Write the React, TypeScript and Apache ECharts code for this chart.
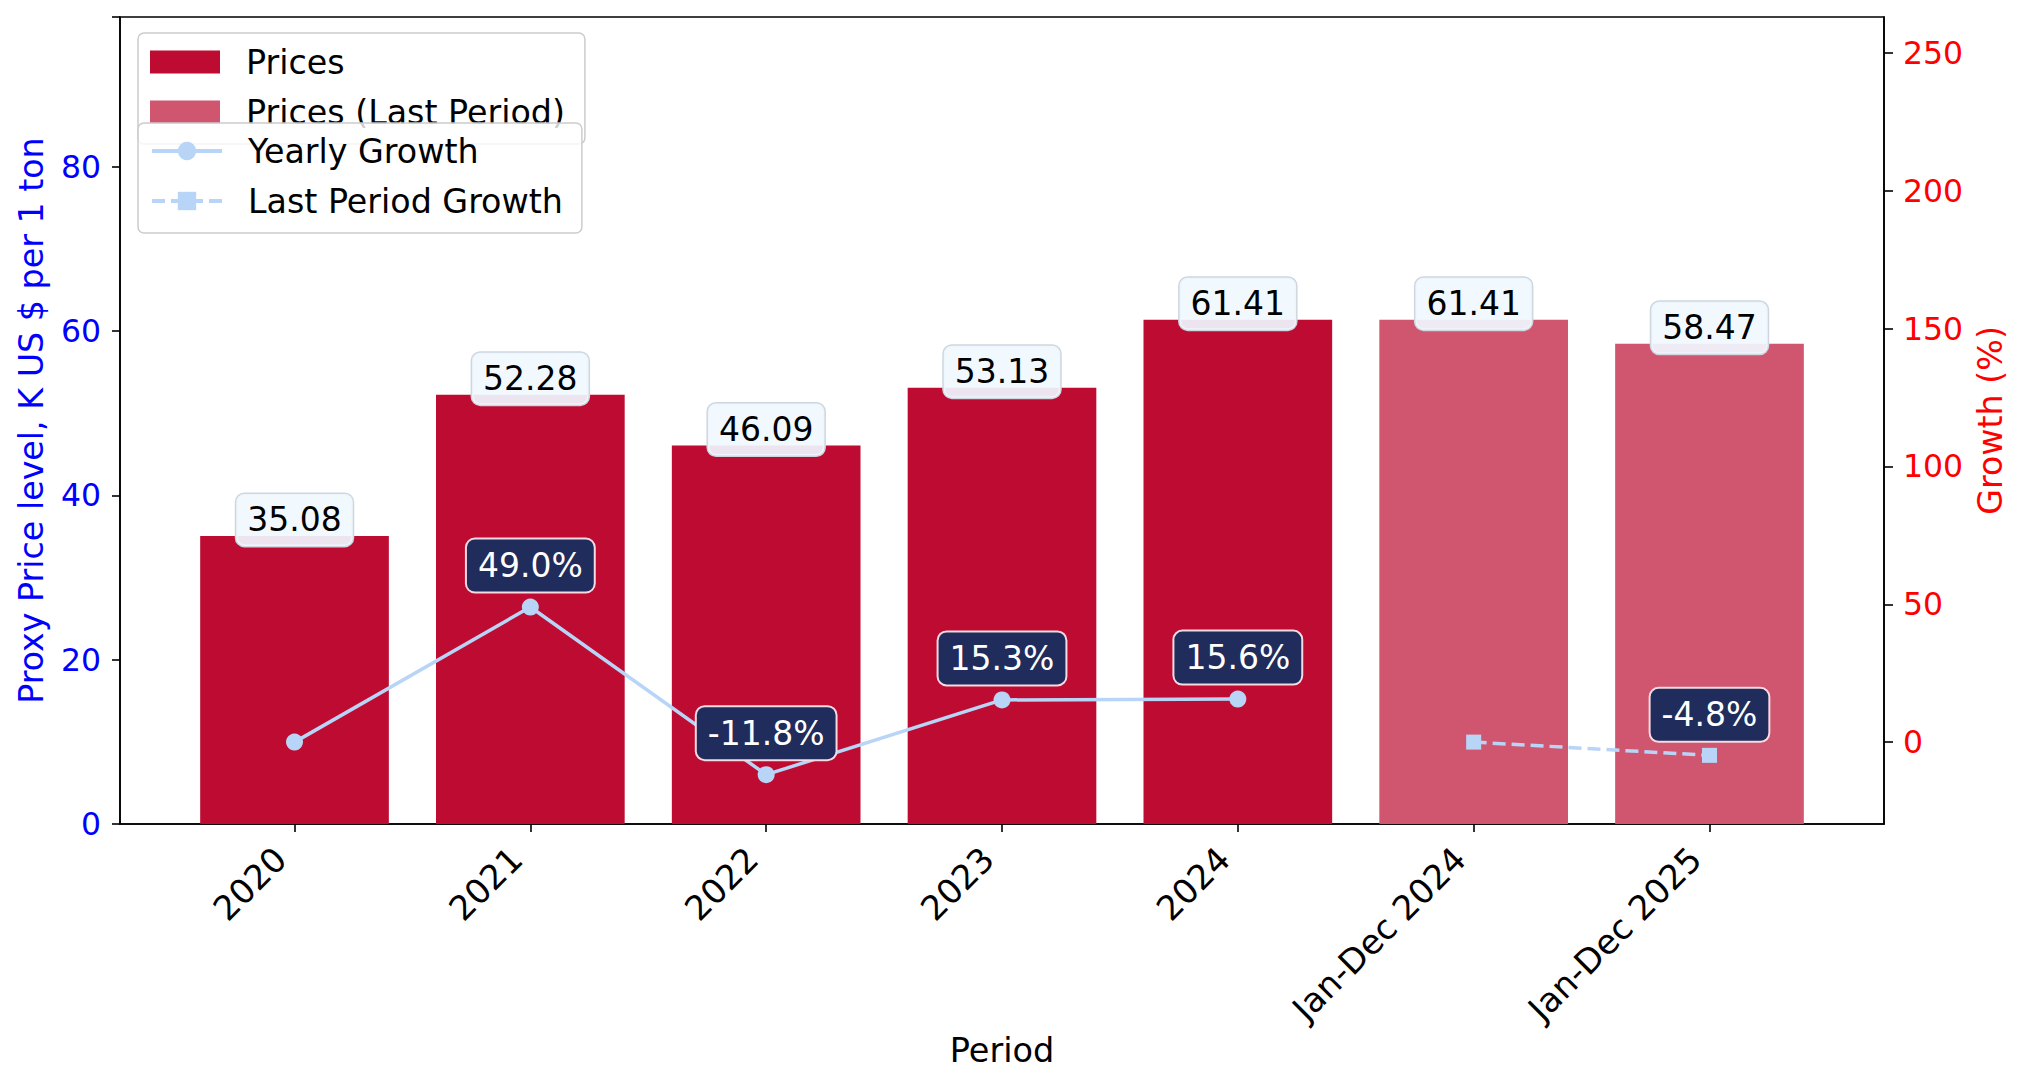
import React, { useEffect, useRef } from "react";
import * as echarts from "echarts";

const categories = ["2020", "2021", "2022", "2023", "2024", "Jan-Dec 2024", "Jan-Dec 2025"];
const priceValues = [35.08, 52.28, 46.09, 53.13, 61.41];
const lastPeriodPrices = [61.41, 58.47];
const yearlyGrowth = [0, 49.0, -11.8, 15.3, 15.6];
const lastPeriodGrowth = [0, -4.8];
const leftTicks = [0, 20, 40, 60, 80];
const rightTicks = [0, 50, 100, 150, 200, 250];

const FONT = "DejaVu Sans";
const BAR_RED = "#bd0b31";
const BAR_LIGHT = "#d0556e";
const LINE_BLUE = "#b8d5f7";
const NAVY = "#1f2c5c";

export default function App() {
  const ref = useRef<HTMLDivElement>(null);
  useEffect(() => {
    if (!ref.current) return;
    const chart = echarts.init(ref.current, null, { renderer: "svg" });
    const nPrices = priceValues.length;
    const catIdx = categories.map((_, i) => i);

    const barLabel = {
      show: true,
      position: "top",
      distance: -10,
      formatter: (p: any) => p.value[1].toFixed(2),
      fontFamily: FONT,
      fontSize: 33,
      lineHeight: 38,
      color: "#000",
      backgroundColor: "rgba(240,248,255,0.92)",
      borderColor: "#cfd6df",
      borderWidth: 1.5,
      borderRadius: 8,
      padding: [7, 11],
    };
    const growthLabel = (v: number) => ({
      show: v !== 0,
      position: "top",
      distance: 7,
      formatter: (p: any) => p.value[1].toFixed(1) + "%",
      fontFamily: FONT,
      fontSize: 33,
      lineHeight: 38,
      color: "#fff",
      backgroundColor: NAVY,
      borderColor: "#f7dbe2",
      borderWidth: 2,
      borderRadius: 8,
      padding: [7, 11],
    });

    const legendCommon = {
      orient: "vertical",
      left: 138,
      itemGap: 16,
      itemWidth: 70,
      itemHeight: 23,
      backgroundColor: "rgba(255,255,255,0.8)",
      borderColor: "#cccccc",
      borderWidth: 1.5,
      borderRadius: 6,
      lineStyle: { width: 4 },
      textStyle: {
        fontFamily: FONT,
        fontSize: 33.3,
        lineHeight: 34,
        color: "#000",
        padding: [0, 0, 0, 21],
      },
    };

    chart.setOption({
      animation: false,
      textStyle: { fontFamily: FONT },
      grid: {
        left: 120,
        right: 141,
        top: 17,
        bottom: 263,
        show: true,
        borderColor: "#000",
        borderWidth: 1.6,
        backgroundColor: "transparent",
      },
      legend: [
        {
          ...legendCommon,
          top: 33,
          z: 4,
          padding: [12, 20, 15, 12],
          data: [
            { name: "Prices", icon: "rect" },
            { name: "Prices (Last Period)", icon: "rect" },
          ],
        },
        {
          ...legendCommon,
          top: 123,
          z: 6,
          padding: [11, 19, 15, 12],
          data: ["Yearly Growth", "Last Period Growth"],
        },
      ],
      xAxis: {
        type: "value",
        min: -0.74,
        max: 6.74,
        name: "Period",
        nameLocation: "middle",
        nameGap: 206,
        nameTextStyle: { fontFamily: FONT, fontSize: 33.5, color: "#000" },
        splitLine: { show: false },
        axisLine: { show: true, onZero: false, lineStyle: { color: "#000", width: 1.6 } },
        axisTick: {
          show: true,
          length: 8,
          customValues: catIdx,
          lineStyle: { color: "#000", width: 1.6 },
        },
        axisLabel: {
          customValues: catIdx,
          formatter: (v: number) => categories[Math.round(v)] ?? "",
          rotate: 45,
          margin: 15,
          padding: [0, 20, 0, 0],
          fontFamily: FONT,
          fontSize: 34,
          color: "#000",
        },
      },
      yAxis: [
        {
          type: "value",
          min: 0,
          max: 98.26,
          interval: 20,
          position: "left",
          name: "Proxy Price level, K US $ per 1 ton",
          nameLocation: "middle",
          nameRotate: 90,
          nameGap: 72,
          nameTextStyle: { fontFamily: FONT, fontSize: 33.3, color: "#0000ff" },
          splitLine: { show: false },
          axisLine: { show: true, onZero: false, lineStyle: { color: "#000", width: 1.6 } },
          axisTick: { show: true, length: 8, lineStyle: { color: "#000", width: 1.6 } },
          axisLabel: {
            customValues: leftTicks,
            margin: 19,
            fontFamily: FONT,
            fontSize: 31.5,
            color: "#0000ff",
          },
        },
        {
          type: "value",
          min: -29.7,
          max: 263,
          position: "right",
          name: "Growth (%)",
          nameLocation: "middle",
          nameRotate: 90,
          nameGap: 89,
          nameTextStyle: { fontFamily: FONT, fontSize: 33.3, color: "#ff0000" },
          splitLine: { show: false },
          axisLine: { show: true, onZero: false, lineStyle: { color: "#000", width: 1.6 } },
          axisTick: {
            show: true,
            length: 9,
            customValues: rightTicks,
            lineStyle: { color: "#000", width: 1.6 },
          },
          axisLabel: {
            customValues: rightTicks,
            margin: 19,
            fontFamily: FONT,
            fontSize: 31.5,
            color: "#ff0000",
          },
        },
      ],
      series: [
        {
          name: "Prices",
          type: "bar",
          barWidth: "80%",
          barGap: "-100%",
          itemStyle: { color: BAR_RED },
          label: barLabel,
          data: priceValues.map((v, i) => [i, v]),
          z: 2,
        },
        {
          name: "Prices (Last Period)",
          type: "bar",
          barWidth: "80%",
          barGap: "-100%",
          itemStyle: { color: BAR_LIGHT },
          label: barLabel,
          data: lastPeriodPrices.map((v, i) => [nPrices + i, v]),
          z: 2,
        },
        {
          name: "Yearly Growth",
          type: "line",
          yAxisIndex: 1,
          symbol: "circle",
          symbolSize: 17,
          lineStyle: { color: LINE_BLUE, width: 3.5 },
          itemStyle: { color: LINE_BLUE },
          data: yearlyGrowth.map((v, i) => ({ value: [i, v], label: growthLabel(v) })),
          z: 5,
        },
        {
          name: "Last Period Growth",
          type: "line",
          yAxisIndex: 1,
          symbol: "rect",
          symbolSize: 15,
          lineStyle: { color: LINE_BLUE, width: 3.5, type: [13, 6] },
          itemStyle: { color: LINE_BLUE },
          data: lastPeriodGrowth.map((v, i) => ({
            value: [nPrices + i, v],
            label: growthLabel(v),
          })),
          z: 5,
        },
      ],
    });
    return () => chart.dispose();
  }, []);
  return (
    <div
      ref={ref}
      style={{ position: "absolute", left: 0, top: 0, width: 2025, height: 1087, background: "#fff" }}
    />
  );
}
